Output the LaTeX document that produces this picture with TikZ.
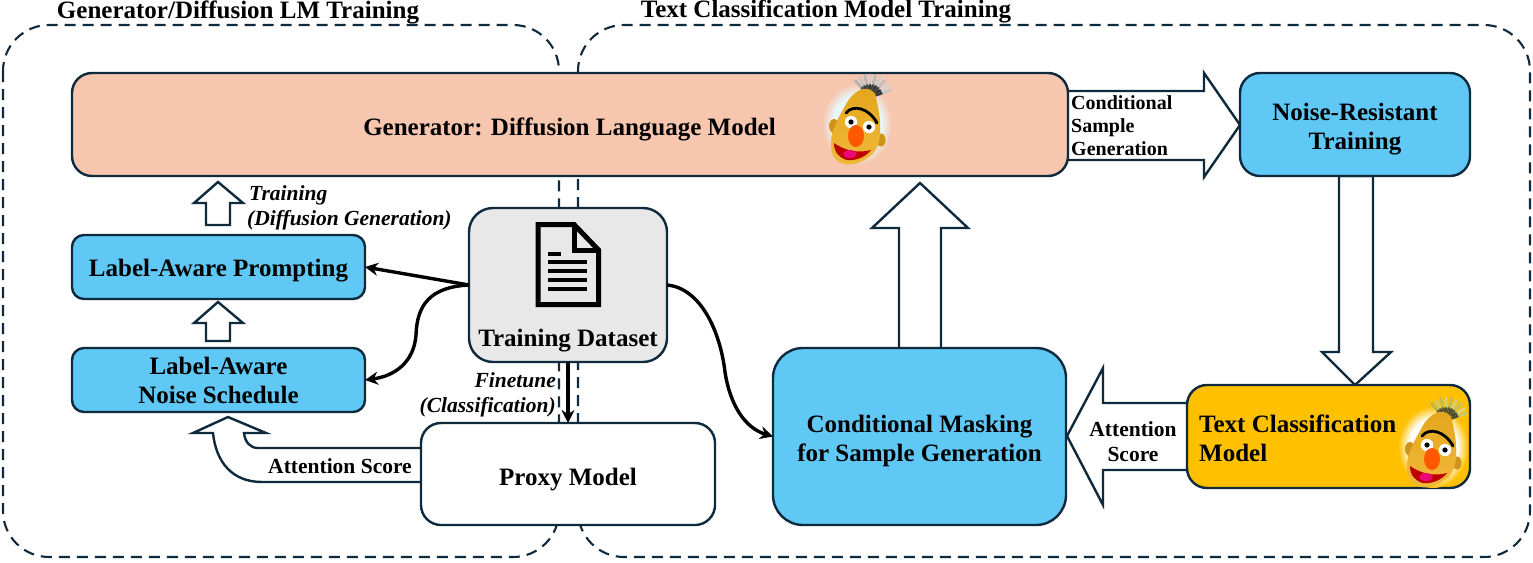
\documentclass[tikz,border=0pt]{standalone}
\usepackage{fontspec}
\setmainfont{Liberation Serif}
\usetikzlibrary{arrows.meta}
\definecolor{navy}{HTML}{0E2A3C}
\definecolor{skyb}{HTML}{5FC8F5}
\definecolor{peach}{HTML}{F6C6AE}
\definecolor{gold}{HTML}{FFC000}
\definecolor{pale}{HTML}{E8E8E8}
\definecolor{berty}{HTML}{E3A51C}
\definecolor{bertlow}{HTML}{F2B93A}
\definecolor{glowc}{HTML}{EAF8FC}
\pgfdeclareradialshading{glowpeach}{\pgfpoint{0bp}{0bp}}{color(0bp)=(glowc); color(17bp)=(glowc); color(25bp)=(peach); color(50bp)=(peach)}
\pgfdeclareradialshading{glowgold}{\pgfpoint{0bp}{0bp}}{color(0bp)=(white); color(17bp)=(white); color(25bp)=(gold); color(50bp)=(gold)}
\tikzset{
  box/.style={draw=navy,line width=2.4pt,rounded corners=#1,inner sep=0pt,outer sep=0pt,align=center,font=\bfseries\fontsize{25}{29}\selectfont},
  box/.default=12pt,
  frame/.style={draw=navy,line width=2.1pt,dash pattern=on 11pt off 7pt,rounded corners=46pt},
  blockarrow/.style={draw=navy,line width=2.4pt,fill=white,line join=miter},
  flow/.style={draw=black,line width=3.4pt,-{Stealth[length=13pt,width=13pt]}},
  lbl/.style={inner sep=0pt,align=left,font=\bfseries\fontsize{20}{23}\selectfont},
  lblb/.style={inner sep=0pt,align=center,font=\bfseries\fontsize{21.5}{25}\selectfont},
  ilbl/.style={inner sep=0pt,align=left,font=\bfseries\itshape\fontsize{21.5}{25}\selectfont},
  ttl/.style={inner sep=0pt,font=\bfseries\fontsize{25}{29}\selectfont},
  big/.style={inner sep=0pt,align=center,font=\bfseries\fontsize{25}{29}\selectfont},
}
\newcommand{\bertface}[4]{%
  \begin{scope}[shift={(#1,#2)}]
    \shade[shading=#4] (0,-6) ellipse (35 and 41);
    \foreach \a/\c in {-42/60,-28/45,-14/55,0/40,14/55,28/40,42/50,58/35,72/45}{
      \draw[#3!\c!white,line width=2.8pt,line cap=round] (13,-33) -- ++({\a-90}:22);
      \draw[#3!\c!black,line width=2.8pt,line cap=round] (13,-33) -- ++({\a-90}:12);
    }
    \fill[berty!90!black] (-23,-4) ellipse (5 and 7);
    \fill[berty!90!black] (24,10) ellipse (4.5 and 6.5);
    \shade[top color=berty,bottom color=bertlow] (3,-40) .. controls (10,-43) and (19,-40) .. (19,-32)
      .. controls (22,-20) and (24,-8) .. (23,3) .. controls (23,14) and (18,24) .. (10,28)
      .. controls (3,34) and (-8,36) .. (-16,33) .. controls (-24,30) and (-27,20) .. (-26,10)
      .. controls (-24,-5) and (-15,-18) .. (-12,-24) .. controls (-8,-32) and (-3,-37) .. (3,-40) -- cycle;
    \fill[red!75!black] (-23,13) .. controls (-10,22) and (3,23) .. (14,20)
      .. controls (8,28) and (-3,31) .. (-10,30) .. controls (-18,28) and (-23,22) .. (-23,13) -- cycle;
    \fill[magenta!80!red] (-7,24) ellipse (6.5 and 4);
    \draw[black,line width=2.8pt,line cap=round] (-11,-17) .. controls (-4,-26) and (12,-22) .. (20,-7);
    \fill[white] (-6,-8) circle (6.2);
    \fill[white] (12,-3) circle (6.2);
    \fill[black] (-6,-8) circle (2.6);
    \fill[black] (12,-3) circle (2.6);
    \fill[orange!70!red] (-1,6) ellipse (8 and 11);
  \end{scope}}
\begin{document}
\begin{tikzpicture}[x=1pt,y=-1pt]
\useasboundingbox (0,0) rectangle (1533,562);
\fill[white] (0,0) rectangle (1533,562);

% dashed frames
\draw[frame] (3,25) rectangle (559,557);
\draw[frame] (578,25) rectangle (1530,557);

\node[ttl] (t1) at (238,12) {Generator/Diffusion LM Training};
\node[ttl] (t2) at (826,11) {Text Classification Model Training};

% block arrows (drawn under the boxes they meet)
\draw[blockarrow] (1068,91) -- (1204,91) -- (1204,73) -- (1240,125) -- (1204,177) -- (1204,160) -- (1068,160);
\draw[blockarrow] (1339,176) -- (1373,176) -- (1373,352) -- (1391,352) -- (1355,385) -- (1322,352) -- (1339,352) -- cycle;
\draw[blockarrow] (1187,403) -- (1103,403) -- (1103,368) -- (1067,436) -- (1103,505) -- (1103,470) -- (1187,470);
\draw[blockarrow] (899,348) -- (899,228) -- (872,228) -- (920,183) -- (968,228) -- (941,228) -- (941,348);
\draw[blockarrow] (206,225) -- (206,203) -- (194,203) -- (218,182) -- (243,203) -- (230,203) -- (230,225) -- cycle;
\draw[blockarrow] (206,341) -- (206,323) -- (194,323) -- (218,302) -- (243,323) -- (230,323) -- (230,341) -- cycle;
\draw[blockarrow] (421,448) -- (258,448) .. controls (250,448) and (245,442) .. (244,433) -- (266,433) -- (228,417) -- (193,433) -- (213,433) .. controls (216,462) and (232,482) .. (262,482) -- (421,482);

% boxes
\node[box=20pt,fill=peach,minimum width=996pt,minimum height=103pt] (gen) at (570,124.5) {};
\node[big] (gentext) at (569.5,129) {Generator: Diffusion Language Model};
\bertface{857}{130}{gray}{glowpeach}

\node[box=20pt,fill=skyb,minimum width=230pt,minimum height=103pt] (nrt) at (1355,124.5) {};
\node[big] (nrttext) at (1355,129) {Noise-Resistant\\Training};
\node[box=12pt,fill=skyb,minimum width=293pt,minimum height=64pt] (lap) at (218.5,267) {};
\node[big] (laptext) at (218.5,271) {Label-Aware Prompting};
\node[box=12pt,fill=skyb,minimum width=293pt,minimum height=64pt] (lans) at (218.5,380) {Label-Aware\\Noise Schedule};
\node[box=24pt,fill=pale,minimum width=198pt,minimum height=154pt] (data) at (568,285) {};
\node[box=20pt,fill=white,minimum width=294pt,minimum height=102pt] (proxy) at (568,474) {};
\node[big] (proxytext) at (568,480) {Proxy Model};
\node[box=30pt,fill=skyb,minimum width=293pt,minimum height=177pt] (mask) at (919.5,436.5) {};
\node[big] (masktext) at (919.5,440.5) {Conditional Masking\\for Sample Generation};
\node[box=20pt,fill=gold,minimum width=283pt,minimum height=103pt] (tcm) at (1328.5,436.5) {};
\bertface{1433}{453}{olive}{glowgold}
\node[big,align=left,anchor=west] (tcmtext) at (1199,438.5) {Text Classification\\Model};

% document icon
\draw[black,line width=5pt,line join=miter] (538,224.5) -- (574,224.5) -- (598.5,250) -- (598.5,304.5) -- (538,304.5) -- cycle;
\draw[black,line width=5pt,line join=miter] (574,224.5) -- (574,250) -- (598.5,250);
\foreach \yy in {262,271,280,289}{\draw[black,line width=3.4pt] (548,\yy) -- (587,\yy);}
\draw[black,line width=3.4pt] (548,254) -- (561,254);
\node[big] (datatext) at (568,341) {Training Dataset};

% thin flows
\draw[flow] (data.west) -- (lap.east);
\draw[flow] (data.west) .. controls (430,287) and (417,305) .. (416,335) .. controls (414,362) and (395,376) .. (lans.east);
\draw[flow] (data.east) .. controls (700,288) and (720,330) .. (725,372) .. controls (730,405) and (745,428) .. (mask.west);
\draw[flow] (data.south) -- (proxy.north);

% labels
\node[ilbl,anchor=west] (l1) at (247,208) {\hspace*{2pt}Training\\(Diffusion Generation)};
\node[ilbl,align=right,anchor=east] (l2) at (556,395) {Finetune\\(Classification)};
\node[lblb] (l3) at (340,466) {Attention Score};
\node[lbl,anchor=west] (l4) at (1071,126) {Conditional\\Sample\\Generation};
\node[lblb] (l5) at (1133,442) {Attention\\Score};
\end{tikzpicture}
\end{document}
